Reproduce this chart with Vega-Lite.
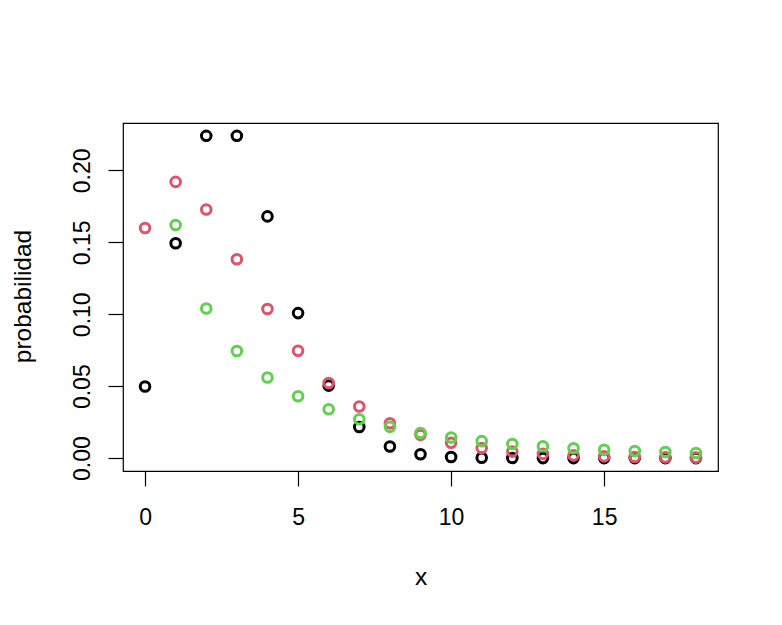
{
  "$schema": "https://vega.github.io/schema/vega-lite/v6.json",
  "width": 595,
  "height": 348,
  "autosize": {"type": "none"},
  "padding": {"left": 123, "top": 123, "right": 64, "bottom": 154},
  "background": "white",
  "data": {
    "values": [
      {"x": 0, "p": 0.049787, "serie": "poisson"},
      {"x": 1, "p": 0.149361, "serie": "poisson"},
      {"x": 2, "p": 0.224042, "serie": "poisson"},
      {"x": 3, "p": 0.224042, "serie": "poisson"},
      {"x": 4, "p": 0.168031, "serie": "poisson"},
      {"x": 5, "p": 0.100819, "serie": "poisson"},
      {"x": 6, "p": 0.050409, "serie": "poisson"},
      {"x": 7, "p": 0.021604, "serie": "poisson"},
      {"x": 8, "p": 0.008102, "serie": "poisson"},
      {"x": 9, "p": 0.002701, "serie": "poisson"},
      {"x": 10, "p": 0.00081, "serie": "poisson"},
      {"x": 11, "p": 0.000221, "serie": "poisson"},
      {"x": 12, "p": 0.000055, "serie": "poisson"},
      {"x": 13, "p": 0.000013, "serie": "poisson"},
      {"x": 14, "p": 0.000003, "serie": "poisson"},
      {"x": 15, "p": 0.000001, "serie": "poisson"},
      {"x": 16, "p": 0.0, "serie": "poisson"},
      {"x": 17, "p": 0.0, "serie": "poisson"},
      {"x": 18, "p": 0.0, "serie": "poisson"},
      {"x": 0, "p": 0.16, "serie": "binneg"},
      {"x": 1, "p": 0.192, "serie": "binneg"},
      {"x": 2, "p": 0.1728, "serie": "binneg"},
      {"x": 3, "p": 0.13824, "serie": "binneg"},
      {"x": 4, "p": 0.10368, "serie": "binneg"},
      {"x": 5, "p": 0.07465, "serie": "binneg"},
      {"x": 6, "p": 0.05225, "serie": "binneg"},
      {"x": 7, "p": 0.03583, "serie": "binneg"},
      {"x": 8, "p": 0.02419, "serie": "binneg"},
      {"x": 9, "p": 0.01612, "serie": "binneg"},
      {"x": 10, "p": 0.01064, "serie": "binneg"},
      {"x": 11, "p": 0.00697, "serie": "binneg"},
      {"x": 12, "p": 0.00453, "serie": "binneg"},
      {"x": 13, "p": 0.00293, "serie": "binneg"},
      {"x": 14, "p": 0.00188, "serie": "binneg"},
      {"x": 15, "p": 0.0012, "serie": "binneg"},
      {"x": 16, "p": 0.00077, "serie": "binneg"},
      {"x": 17, "p": 0.00049, "serie": "binneg"},
      {"x": 18, "p": 0.00031, "serie": "binneg"},
      {"x": 1, "p": 0.162, "serie": "otra"},
      {"x": 2, "p": 0.104, "serie": "otra"},
      {"x": 3, "p": 0.0745, "serie": "otra"},
      {"x": 4, "p": 0.056, "serie": "otra"},
      {"x": 5, "p": 0.043, "serie": "otra"},
      {"x": 6, "p": 0.034, "serie": "otra"},
      {"x": 7, "p": 0.027, "serie": "otra"},
      {"x": 8, "p": 0.0218, "serie": "otra"},
      {"x": 9, "p": 0.0175, "serie": "otra"},
      {"x": 10, "p": 0.0143, "serie": "otra"},
      {"x": 11, "p": 0.0118, "serie": "otra"},
      {"x": 12, "p": 0.0098, "serie": "otra"},
      {"x": 13, "p": 0.0082, "serie": "otra"},
      {"x": 14, "p": 0.0069, "serie": "otra"},
      {"x": 15, "p": 0.0058, "serie": "otra"},
      {"x": 16, "p": 0.0049, "serie": "otra"},
      {"x": 17, "p": 0.0042, "serie": "otra"},
      {"x": 18, "p": 0.0036, "serie": "otra"}
    ]
  },
  "mark": {"type": "point", "shape": "circle", "filled": false, "size": 92, "strokeWidth": 3, "opacity": 1},
  "encoding": {
    "x": {
      "field": "x",
      "type": "quantitative",
      "scale": {"domain": [-0.72, 18.72], "nice": false, "zero": false},
      "axis": {
        "title": "x",
        "values": [0, 5, 10, 15],
        "titleX": 297.5,
        "titleY": 113,
        "titleBaseline": "alphabetic"
      }
    },
    "y": {
      "field": "p",
      "type": "quantitative",
      "scale": {"domain": [-0.00896, 0.23296], "nice": false, "zero": false},
      "axis": {
        "title": "probabilidad",
        "values": [0, 0.05, 0.1, 0.15, 0.2],
        "format": ".2f",
        "labelAngle": -90,
        "labelAlign": "center",
        "labelBaseline": "alphabetic",
        "labelPadding": 19,
        "titleX": -93,
        "titleY": 173,
        "titleAngle": -90,
        "titleBaseline": "alphabetic"
      }
    },
    "color": {
      "field": "serie",
      "type": "nominal",
      "scale": {"domain": ["poisson", "binneg", "otra"], "range": ["#000000", "#DF536B", "#61D04F"]},
      "legend": null
    }
  },
  "config": {
    "view": {"stroke": "#000000", "strokeWidth": 1.2},
    "axis": {
      "domain": false,
      "grid": false,
      "ticks": true,
      "tickSize": 15,
      "tickColor": "#000000",
      "tickWidth": 1.2,
      "labelFont": "Liberation Sans",
      "labelFontSize": 23,
      "labelColor": "#000000",
      "titleFont": "Liberation Sans",
      "titleFontSize": 24.5,
      "titleFontWeight": "normal",
      "titleColor": "#000000"
    },
    "axisX": {"labelPadding": 20, "labelBaseline": "top"}
  }
}
